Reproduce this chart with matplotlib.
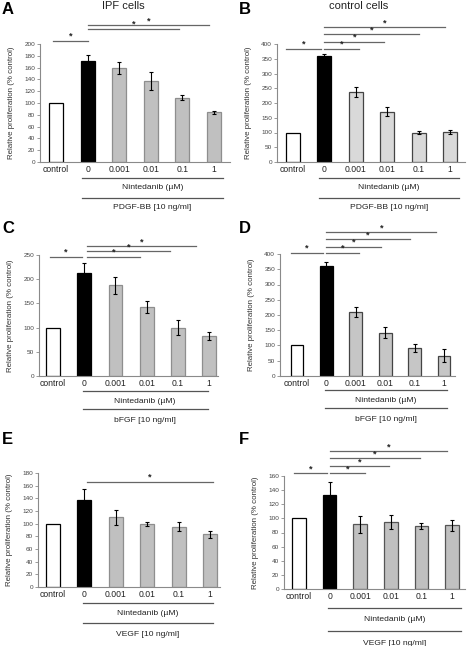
import matplotlib
matplotlib.use("Agg")
import matplotlib.pyplot as plt
import matplotlib.transforms as mtransforms

plt.rcParams['font.family'] = ['Liberation Sans', 'DejaVu Sans']

W, H = 474, 646

categories = ["control", "0", "0.001", "0.01", "0.1", "1"]

a_vals = [100, 171, 159, 137, 109, 84]
a_err = [0, 10, 10, 15, 4, 2]
b_vals = [100, 358, 236, 171, 100, 101]
b_err = [0, 8, 17, 15, 5, 7]
c_vals = [100, 213, 187, 143, 100, 82]
c_err = [0, 20, 17, 12, 15, 8]
d_vals = [100, 362, 210, 142, 93, 67]
d_err = [0, 12, 15, 18, 13, 22]
e_vals = [100, 137, 110, 100, 95, 83]
e_err = [0, 18, 12, 3, 7, 6]
f_vals = [100, 133, 92, 95, 89, 90]
f_err = [0, 18, 12, 10, 4, 8]

a_ticks = [0, 20, 40, 60, 80, 100, 120, 140, 160, 180, 200]
b_ticks = [0, 50, 100, 150, 200, 250, 300, 350, 400]
c_ticks = [0, 50, 100, 150, 200, 250]
d_ticks = [0, 50, 100, 150, 200, 250, 300, 350, 400]
e_ticks = [0, 20, 40, 60, 80, 100, 120, 140, 160, 180]
f_ticks = [0, 20, 40, 60, 80, 100, 120, 140, 160]

ylabel = "Relative proliferation (% control)"
drug_label = "Nintedanib (µM)"
a_factor = "PDGF-BB [10 ng/ml]"
c_factor = "bFGF [10 ng/ml]"
e_factor = "VEGF [10 ng/ml]"
titles = {"A": "IPF cells", "B": "control cells"}

# layout in pixels
panels = [
    dict(letter="A", vals=a_vals, err=a_err, ticks=a_ticks, factor=a_factor,
         box=(40, 230, 44, 162), x0=56, dx=31.6, letter_xy=(2, 9),
         gray="#c0c0c0", gedge="#8e8e8e",
         sig=[(-0.1, 1.0, 41, 36), (1.0, 3.9, 29, 24), (1.0, 4.84, 25, 21)],
         lines=(178, 184, 198, 204), lspan=(0.82, 5.28)),
    dict(letter="B", vals=b_vals, err=b_err, ticks=b_ticks, factor=a_factor,
         box=(277, 465, 44, 162), x0=293, dx=31.4, letter_xy=(239, 9),
         gray="#d9d9d9", gedge="#444444",
         sig=[(-0.22, 0.9, 49, 44), (1.0, 2.1, 49, 44), (1.0, 2.9, 42, 37),
              (1.0, 4.0, 34, 30), (1.0, 4.84, 27, 23)],
         lines=(178, 184, 198, 204), lspan=(0.82, 5.28)),
    dict(letter="C", vals=c_vals, err=c_err, ticks=c_ticks, factor=c_factor,
         box=(39, 218, 255, 376), x0=53, dx=31.25, letter_xy=(2, 228),
         gray="#c0c0c0", gedge="#8e8e8e",
         sig=[(-0.1, 0.93, 257, 252), (1.09, 2.78, 257, 252), (1.09, 3.74, 251, 247),
              (1.09, 4.58, 246, 242)],
         lines=(391, 398, 409, 417), lspan=(0.95, 4.95)),
    dict(letter="D", vals=d_vals, err=d_err, ticks=d_ticks, factor=c_factor,
         box=(280, 455, 254, 376), x0=297, dx=29.4, letter_xy=(239, 228),
         gray="#c6c6c6", gedge="#444444",
         sig=[(-0.2, 0.88, 253, 248), (1.0, 2.1, 253, 248), (1.0, 2.86, 247, 242),
              (1.0, 3.84, 239, 235), (1.0, 4.73, 232, 228)],
         lines=(390, 397, 408, 416), lspan=(0.95, 5.1)),
    dict(letter="E", vals=e_vals, err=e_err, ticks=e_ticks, factor=e_factor,
         box=(38, 220, 473, 587), x0=53, dx=31.4, letter_xy=(2, 440),
         gray="#c0c0c0", gedge="#8e8e8e",
         sig=[(1.08, 5.1, 482, 477)],
         lines=(603, 610, 623, 631), lspan=(0.95, 5.1)),
    dict(letter="F", vals=f_vals, err=f_err, ticks=f_ticks, factor=e_factor,
         box=(284, 465, 476, 589), x0=299, dx=30.6, letter_xy=(239, 440),
         gray="#c0c0c0", gedge="#555555",
         sig=[(-0.16, 0.92, 473, 469), (1.02, 2.16, 473, 469), (1.02, 2.94, 466, 462),
              (1.02, 3.95, 458, 454), (1.02, 4.84, 451, 447)],
         lines=(608, 616, 631, 640), lspan=(0.95, 5.3)),
]

fig = plt.figure(figsize=(W / 100, H / 100), dpi=100)
fig.patch.set_facecolor("white")


def fy(py):
    return 1 - py / H


for p in panels:
    l, r, t, b = p["box"]
    ax = fig.add_axes([l / W, fy(b), (r - l) / W, (b - t) / H])
    x = list(range(len(categories)))
    colors = ["white", "black"] + [p["gray"]] * 4
    edges = ["black", "black"] + [p["gedge"]] * 4
    ax.bar(x, p["vals"], width=0.44, color=colors, edgecolor=edges, linewidth=0.9, zorder=2)
    errx = x[1:]
    ax.errorbar(errx, p["vals"][1:], yerr=p["err"][1:], fmt="none", ecolor="black",
                elinewidth=0.8, capsize=1.6, capthick=0.8, zorder=3)
    xl = (l - p["x0"]) / p["dx"]
    xr = (r - p["x0"]) / p["dx"]
    ax.set_xlim(xl, xr)
    ax.set_ylim(p["ticks"][0], p["ticks"][-1])
    ax.set_yticks(p["ticks"])
    ax.set_xticks(x)
    ax.set_xticklabels(categories)
    for s in ["top", "right"]:
        ax.spines[s].set_visible(False)
    for s in ["left", "bottom"]:
        ax.spines[s].set_color("#8a8a8a")
        ax.spines[s].set_linewidth(0.8)
    ax.tick_params(axis="y", labelsize=4.6, colors="#8a8a8a", labelcolor="#444444",
                   length=2, width=0.6, pad=1.5)
    ax.tick_params(axis="x", labelsize=6.2, length=0, pad=2.2, labelcolor="#222222")
    ax.set_ylabel(ylabel, fontsize=5.7, color="#333333")
    ax.yaxis.set_label_coords(-25 / (r - l), 0.5)

    tr = mtransforms.blended_transform_factory(ax.transData, fig.transFigure)
    # significance bars
    for (x1, x2, ly, sy) in p["sig"]:
        ax.plot([x1, x2], [fy(ly), fy(ly)], color="#666666", lw=0.9,
                transform=tr, clip_on=False)
        ax.text((x1 + x2) / 2, fy(sy), "*", transform=tr, ha="center", va="center",
                fontsize=6.5, fontweight="bold", color="#222222")
    # group lines below
    ly1, ty1, ly2, ty2 = p["lines"]
    s1, s2 = p["lspan"]
    ax.plot([s1, s2], [fy(ly1), fy(ly1)], color="#555555", lw=0.9, transform=tr, clip_on=False)
    ax.text((s1 + s2) / 2, fy(ty1), drug_label, transform=tr, ha="center", va="top",
            fontsize=6.1, color="#222222")
    ax.plot([s1, s2], [fy(ly2), fy(ly2)], color="#555555", lw=0.9, transform=tr, clip_on=False)
    ax.text((s1 + s2) / 2, fy(ty2), p["factor"], transform=tr, ha="center", va="top",
            fontsize=6.1, color="#222222")

    lx, lyy = p["letter_xy"]
    fig.text(lx / W, fy(lyy), p["letter"], fontsize=12, fontweight="bold",
             ha="left", va="center", color="black")
    if p["letter"] in titles:
        fig.text(((l + r) / 2 - 12) / W, fy(6), titles[p["letter"]], fontsize=8,
                 ha="center", va="center", color="#222222")

fig.savefig("out.png", dpi=100)
